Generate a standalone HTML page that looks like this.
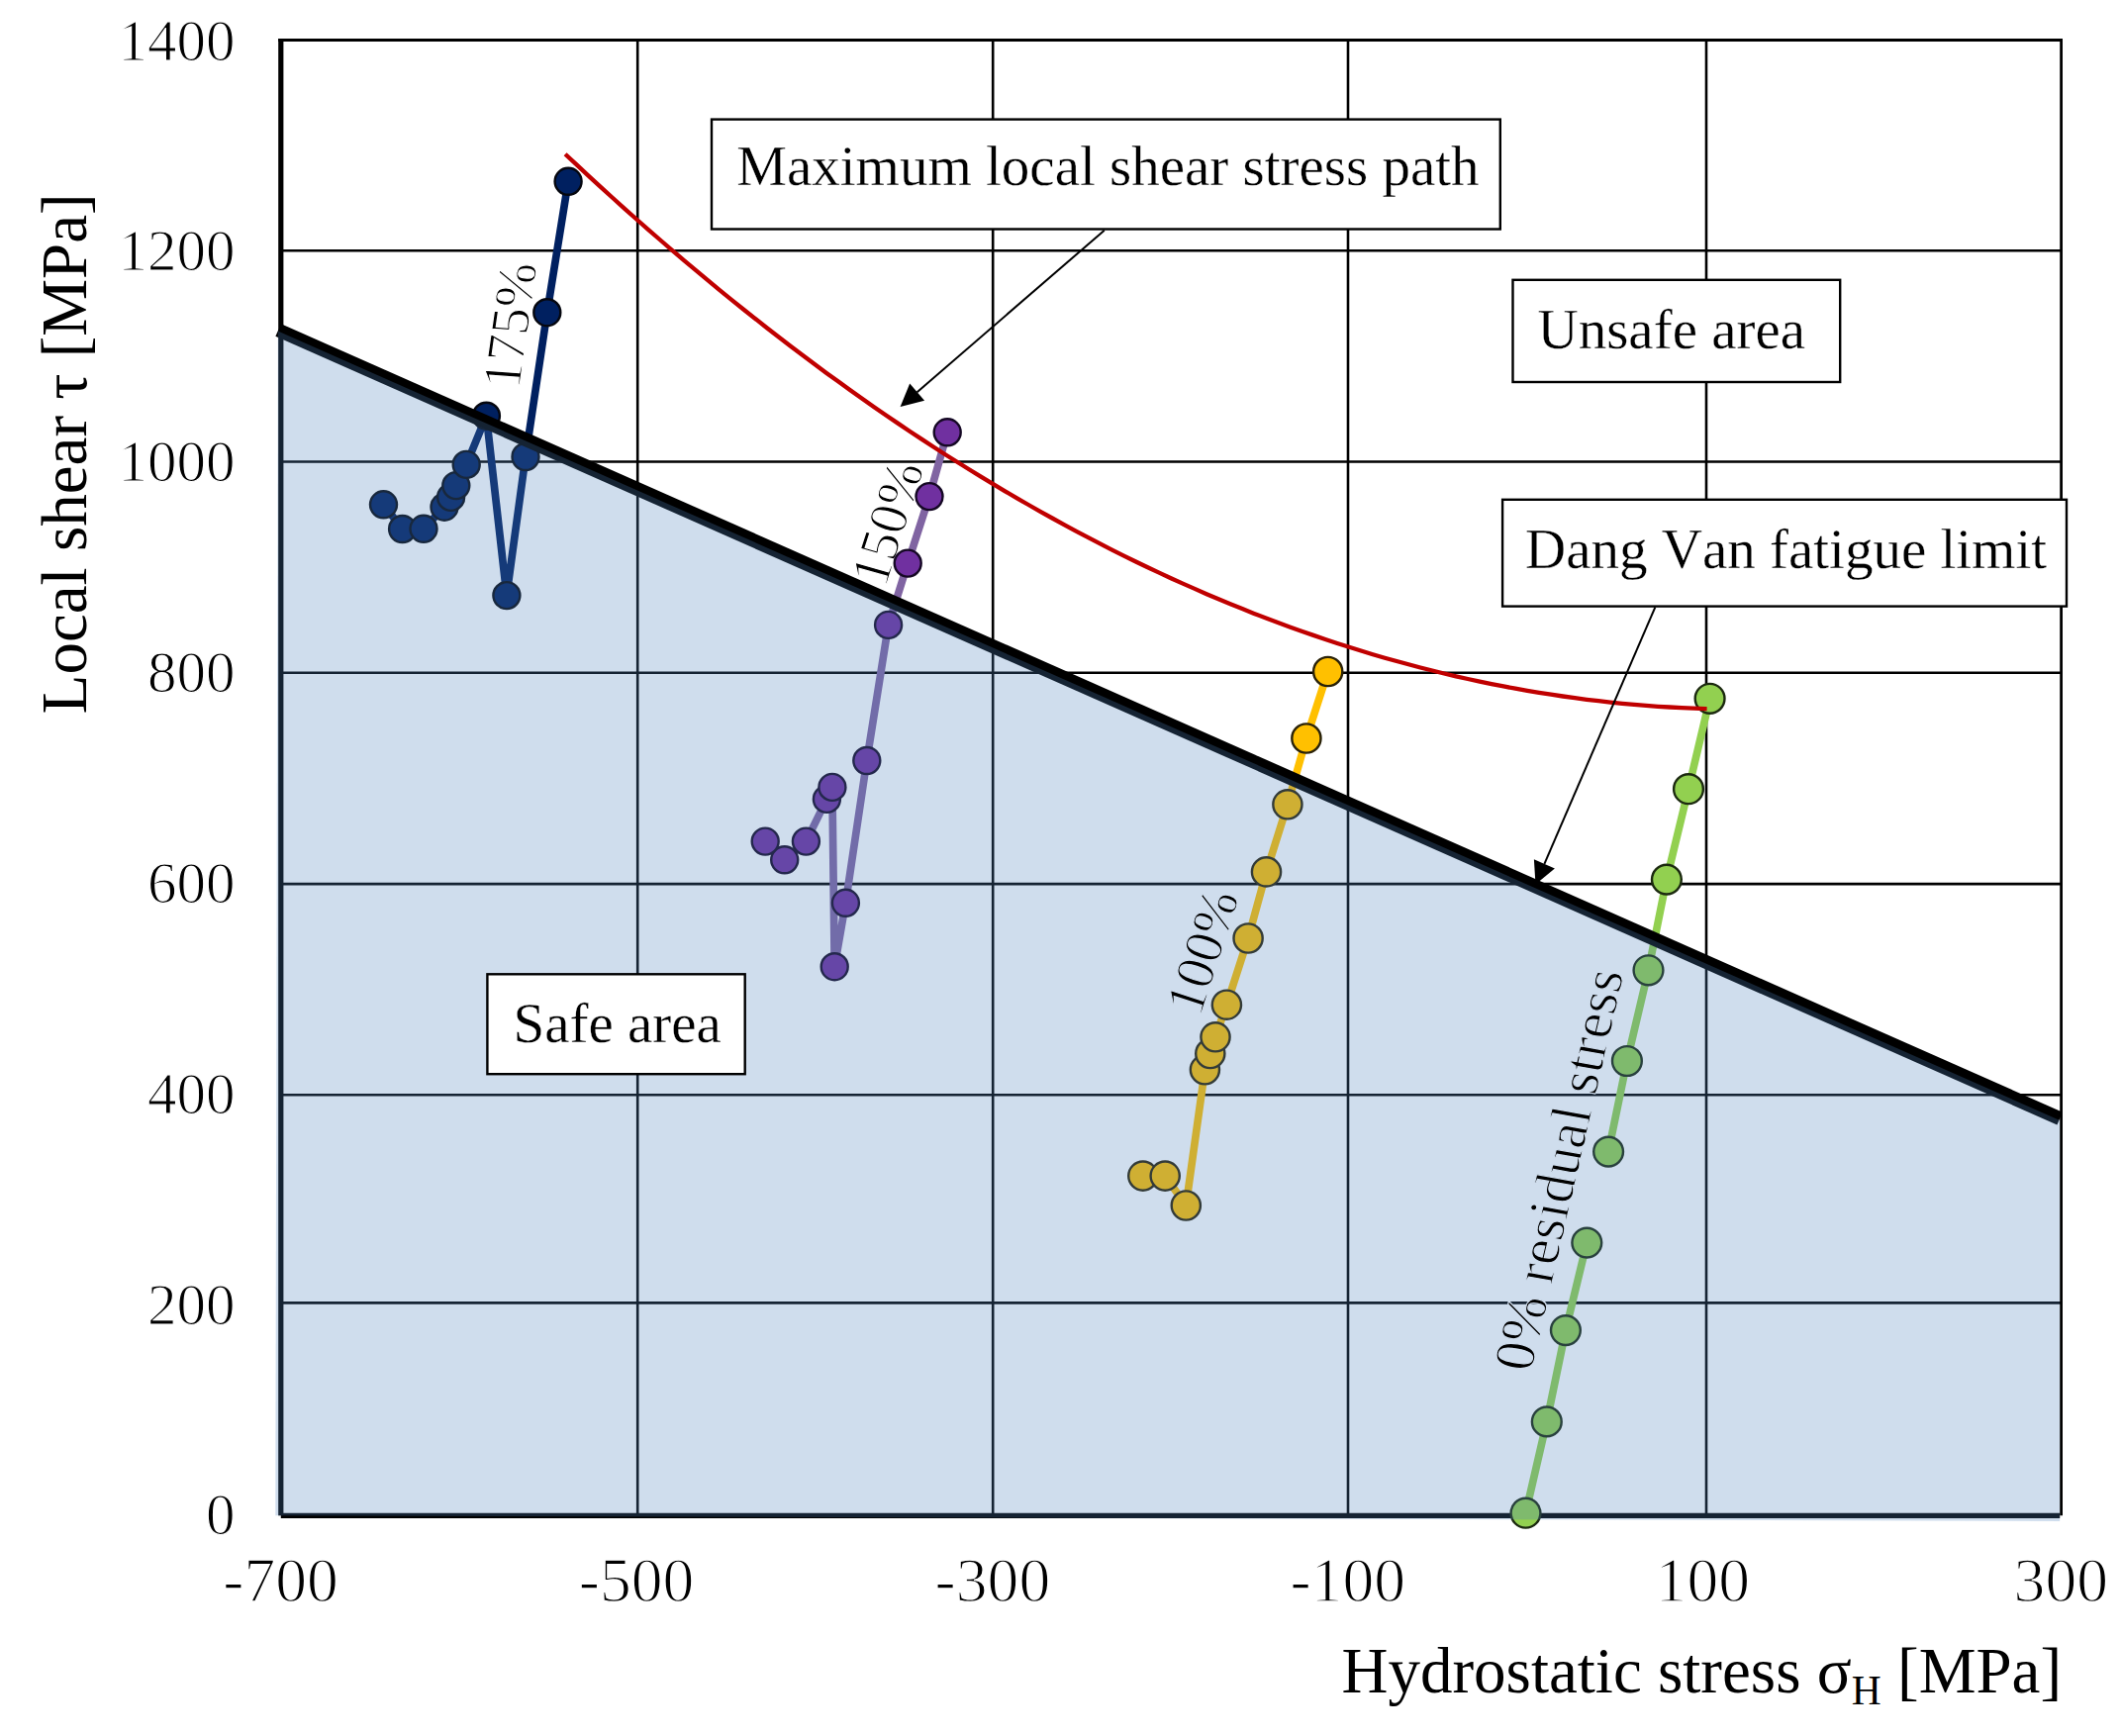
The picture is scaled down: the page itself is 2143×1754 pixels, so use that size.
<!DOCTYPE html>
<html><head><meta charset="utf-8"><title>Dang Van diagram</title>
<style>
html,body{margin:0;padding:0;background:#fff;}
svg{display:block;}
text{font-family:"Liberation Serif","Times New Roman",serif;fill:#000;font-kerning:none;}
.tk{font-size:59px;stroke:#fff;stroke-width:1.2px;}
.tx{font-size:60px;stroke:#fff;stroke-width:1.3px;}
.ax{font-size:65px;}
.bx{font-size:57px;stroke:#fff;stroke-width:0.3px;}
.it{font-size:55px;stroke:#fff;stroke-width:1.2px;}
.ib{stroke:#cfdded;}
</style></head><body>
<svg width="2143" height="1754" viewBox="0 0 2143 1754">
<rect x="0" y="0" width="2143" height="1754" fill="#fff"/>
<g stroke="#000" stroke-width="2.6" fill="none">
<line x1="644.2" y1="40.6" x2="644.2" y2="1531.3"/>
<line x1="1003.2" y1="40.6" x2="1003.2" y2="1531.3"/>
<line x1="1362.0" y1="40.6" x2="1362.0" y2="1531.3"/>
<line x1="1724.0" y1="40.6" x2="1724.0" y2="1531.3"/>
<line x1="283.8" y1="253.3" x2="2082.6" y2="253.3"/>
<line x1="283.8" y1="466.5" x2="2082.6" y2="466.5"/>
<line x1="283.8" y1="679.7" x2="2082.6" y2="679.7"/>
<line x1="283.8" y1="893.1" x2="2082.6" y2="893.1"/>
<line x1="283.8" y1="1106.3" x2="2082.6" y2="1106.3"/>
<line x1="283.8" y1="1316.4" x2="2082.6" y2="1316.4"/>
</g>
<line x1="281.2" y1="40.6" x2="2084.0" y2="40.6" stroke="#000" stroke-width="3"/>
<line x1="2082.6" y1="40.6" x2="2082.6" y2="1531.3" stroke="#000" stroke-width="2.8"/>
<line x1="283.8" y1="39.1" x2="283.8" y2="1531.3" stroke="#000" stroke-width="5.2"/>
<line x1="283.8" y1="1531.3" x2="2081.2" y2="1531.3" stroke="#000" stroke-width="5.3"/>
<text class="it" transform="translate(524.5,393.6) rotate(-81.9) skewX(4)">175%</text>
<text class="it" transform="translate(894.4,594.6) rotate(-72.1) skewX(2)">150%</text>
<polyline points="387.5,509.8 406.6,534.5 428.0,534.3 449.0,512.2 455.6,502.4 460.8,490.6 471.2,469.4 491.4,420.2 511.9,601.6 531.0,461.5 552.8,315.7 574.1,183.3" fill="none" stroke="#002060" stroke-width="7.7" stroke-linejoin="round" stroke-linecap="round"/>
<circle cx="406.6" cy="534.5" r="13.5" fill="#002060" stroke="#05070f" stroke-width="2.4"/>
<circle cx="387.5" cy="509.8" r="13.5" fill="#002060" stroke="#05070f" stroke-width="2.4"/>
<circle cx="428.0" cy="534.3" r="13.5" fill="#002060" stroke="#05070f" stroke-width="2.4"/>
<circle cx="449.0" cy="512.2" r="13.5" fill="#002060" stroke="#05070f" stroke-width="2.4"/>
<circle cx="455.6" cy="502.4" r="13.5" fill="#002060" stroke="#05070f" stroke-width="2.4"/>
<circle cx="460.8" cy="490.6" r="13.5" fill="#002060" stroke="#05070f" stroke-width="2.4"/>
<circle cx="471.2" cy="469.4" r="13.5" fill="#002060" stroke="#05070f" stroke-width="2.4"/>
<circle cx="491.4" cy="420.2" r="13.5" fill="#002060" stroke="#05070f" stroke-width="2.4"/>
<circle cx="511.9" cy="601.6" r="13.5" fill="#002060" stroke="#05070f" stroke-width="2.4"/>
<circle cx="531.0" cy="461.5" r="13.5" fill="#002060" stroke="#05070f" stroke-width="2.4"/>
<circle cx="552.8" cy="315.7" r="13.5" fill="#002060" stroke="#05070f" stroke-width="2.4"/>
<circle cx="574.1" cy="183.3" r="13.5" fill="#002060" stroke="#05070f" stroke-width="2.4"/>
<polyline points="773.2,850.1 792.7,868.8 814.4,850.1 835.4,807.4 840.9,795.4 843.2,976.7 854.4,912.3 875.8,768.5 897.6,631.4 917.2,569.1 939.0,501.6 957.2,436.8" fill="none" stroke="#8064a2" stroke-width="7.7" stroke-linejoin="round" stroke-linecap="round"/>
<circle cx="792.7" cy="868.8" r="13.5" fill="#7030a0" stroke="#150824" stroke-width="2.4"/>
<circle cx="773.2" cy="850.1" r="13.5" fill="#7030a0" stroke="#150824" stroke-width="2.4"/>
<circle cx="814.4" cy="850.1" r="13.5" fill="#7030a0" stroke="#150824" stroke-width="2.4"/>
<circle cx="835.4" cy="807.4" r="13.5" fill="#7030a0" stroke="#150824" stroke-width="2.4"/>
<circle cx="840.9" cy="795.4" r="13.5" fill="#7030a0" stroke="#150824" stroke-width="2.4"/>
<circle cx="843.2" cy="976.7" r="13.5" fill="#7030a0" stroke="#150824" stroke-width="2.4"/>
<circle cx="854.4" cy="912.3" r="13.5" fill="#7030a0" stroke="#150824" stroke-width="2.4"/>
<circle cx="875.8" cy="768.5" r="13.5" fill="#7030a0" stroke="#150824" stroke-width="2.4"/>
<circle cx="897.6" cy="631.4" r="13.5" fill="#7030a0" stroke="#150824" stroke-width="2.4"/>
<circle cx="917.2" cy="569.1" r="13.5" fill="#7030a0" stroke="#150824" stroke-width="2.4"/>
<circle cx="939.0" cy="501.6" r="13.5" fill="#7030a0" stroke="#150824" stroke-width="2.4"/>
<circle cx="957.2" cy="436.8" r="13.5" fill="#7030a0" stroke="#150824" stroke-width="2.4"/>
<polyline points="1154.8,1188.1 1177.2,1188.1 1198.3,1218.0 1217.4,1080.8 1222.8,1064.5 1228.0,1047.8 1239.4,1015.2 1261.1,948.0 1279.5,880.9 1300.9,812.8 1319.9,746.0 1341.7,678.5" fill="none" stroke="#ffc000" stroke-width="7.7" stroke-linejoin="round" stroke-linecap="round"/>
<circle cx="1154.8" cy="1188.1" r="14.6" fill="#ffc000" stroke="#2a2208" stroke-width="2.4"/>
<circle cx="1177.2" cy="1188.1" r="14.6" fill="#ffc000" stroke="#2a2208" stroke-width="2.4"/>
<circle cx="1198.3" cy="1218.0" r="14.6" fill="#ffc000" stroke="#2a2208" stroke-width="2.4"/>
<circle cx="1217.4" cy="1080.8" r="14.6" fill="#ffc000" stroke="#2a2208" stroke-width="2.4"/>
<circle cx="1222.8" cy="1064.5" r="14.6" fill="#ffc000" stroke="#2a2208" stroke-width="2.4"/>
<circle cx="1228.0" cy="1047.8" r="14.6" fill="#ffc000" stroke="#2a2208" stroke-width="2.4"/>
<circle cx="1239.4" cy="1015.2" r="14.6" fill="#ffc000" stroke="#2a2208" stroke-width="2.4"/>
<circle cx="1261.1" cy="948.0" r="14.6" fill="#ffc000" stroke="#2a2208" stroke-width="2.4"/>
<circle cx="1279.5" cy="880.9" r="14.6" fill="#ffc000" stroke="#2a2208" stroke-width="2.4"/>
<circle cx="1300.9" cy="812.8" r="14.6" fill="#ffc000" stroke="#2a2208" stroke-width="2.4"/>
<circle cx="1319.9" cy="746.0" r="14.6" fill="#ffc000" stroke="#2a2208" stroke-width="2.4"/>
<circle cx="1341.7" cy="678.5" r="14.6" fill="#ffc000" stroke="#2a2208" stroke-width="2.4"/>
<polyline points="1541.5,1528.7 1562.8,1436.4 1581.9,1344.1 1603.3,1255.6" fill="none" stroke="#92d050" stroke-width="7.7" stroke-linejoin="round" stroke-linecap="round"/>
<polyline points="1625.1,1163.6 1643.9,1072.0 1665.5,980.3 1683.9,888.6 1706.0,797.2 1727.6,705.8" fill="none" stroke="#92d050" stroke-width="7.7" stroke-linejoin="round" stroke-linecap="round"/>
<circle cx="1541.5" cy="1528.7" r="14.9" fill="#92d050" stroke="#1c2a10" stroke-width="2.4"/>
<circle cx="1562.8" cy="1436.4" r="14.9" fill="#92d050" stroke="#1c2a10" stroke-width="2.4"/>
<circle cx="1581.9" cy="1344.1" r="14.9" fill="#92d050" stroke="#1c2a10" stroke-width="2.4"/>
<circle cx="1603.3" cy="1255.6" r="14.9" fill="#92d050" stroke="#1c2a10" stroke-width="2.4"/>
<circle cx="1625.1" cy="1163.6" r="14.9" fill="#92d050" stroke="#1c2a10" stroke-width="2.4"/>
<circle cx="1643.9" cy="1072.0" r="14.9" fill="#92d050" stroke="#1c2a10" stroke-width="2.4"/>
<circle cx="1665.5" cy="980.3" r="14.9" fill="#92d050" stroke="#1c2a10" stroke-width="2.4"/>
<circle cx="1683.9" cy="888.6" r="14.9" fill="#92d050" stroke="#1c2a10" stroke-width="2.4"/>
<circle cx="1706.0" cy="797.2" r="14.9" fill="#92d050" stroke="#1c2a10" stroke-width="2.4"/>
<circle cx="1727.6" cy="705.8" r="14.9" fill="#92d050" stroke="#1c2a10" stroke-width="2.4"/>
<polyline points="571.1,155.7 583.1,166.9 595.1,178.1 607.1,189.1 619.1,200.0 631.1,210.8 643.1,221.5 655.1,232.1 667.1,242.5 679.1,252.8 691.1,263.1 703.1,273.2 715.1,283.2 727.1,293.1 739.1,302.8 751.1,312.5 763.1,322.0 775.1,331.5 787.1,340.8 799.1,350.0 811.1,359.0 823.1,368.0 835.1,376.9 847.1,385.6 859.1,394.3 871.1,402.8 883.1,411.2 895.1,419.5 907.1,427.6 919.1,435.7 931.1,443.6 943.1,451.5 955.1,459.2 967.1,466.8 979.1,474.3 991.1,481.7 1003.1,488.9 1015.1,496.1 1027.1,503.1 1039.1,510.0 1051.1,516.8 1063.1,523.5 1075.1,530.1 1087.1,536.6 1099.1,542.9 1111.1,549.2 1123.1,555.3 1135.1,561.3 1147.1,567.2 1159.1,573.0 1171.1,578.6 1183.1,584.2 1195.1,589.6 1207.1,594.9 1219.1,600.2 1231.1,605.3 1243.1,610.2 1255.1,615.1 1267.1,619.9 1279.1,624.5 1291.1,629.0 1303.1,633.4 1315.1,637.7 1327.1,641.9 1339.1,646.0 1351.1,650.0 1363.1,653.8 1375.1,657.5 1387.1,661.2 1399.1,664.7 1411.1,668.0 1423.1,671.3 1435.1,674.5 1447.1,677.5 1459.1,680.5 1471.1,683.3 1483.1,686.0 1495.1,688.6 1507.1,691.1 1519.1,693.4 1531.1,695.7 1543.1,697.8 1555.1,699.8 1567.1,701.7 1579.1,703.5 1591.1,705.2 1603.1,706.8 1615.1,708.2 1627.1,709.6 1639.1,710.8 1651.1,711.9 1663.1,712.9 1675.1,713.8 1687.1,714.5 1699.1,715.2 1711.1,715.7 1723.1,716.2 1724.6,716.2" fill="none" stroke="#c00000" stroke-width="4.3" stroke-linejoin="round"/>
<line x1="281.2" y1="333.5" x2="2081.2" y2="1130.1" stroke="#000" stroke-width="13.9"/>
<polygon points="280.8,334.6 2081.2,1132.0 2081.2,1537 278.3,1531.2" fill="rgb(79,129,189)" fill-opacity="0.27"/>
<text class="it ib" transform="translate(1212.4,1027.9) rotate(-72)">100%</text>
<text class="it ib" style="font-size:57.5px" transform="translate(1546.8,1387.3) rotate(-76.9) skewX(3)">0% residual stress</text>
<rect x="719" y="120.6" width="796.8" height="110.9" fill="#fff" stroke="#000" stroke-width="2.4"/>
<text class="bx" x="744.3" y="186.5">Maximum local shear stress path</text>
<rect x="1528.5" y="282.8" width="330.7" height="103.2" fill="#fff" stroke="#000" stroke-width="2.4"/>
<text class="bx" x="1553.5" y="351.8">Unsafe area</text>
<rect x="1518.1" y="504.8" width="569.9" height="107.8" fill="#fff" stroke="#000" stroke-width="2.4"/>
<text class="bx" x="1541" y="573.7">Dang Van fatigue limit</text>
<rect x="492.4" y="984.3" width="260.3" height="100.9" fill="#fff" stroke="#000" stroke-width="2.4"/>
<text class="bx" x="518.5" y="1053.4">Safe area</text>
<line x1="1115.8" y1="232.7" x2="926.6" y2="396.2" stroke="#000" stroke-width="2"/>
<polygon points="909.6,410.9 919.2,387.6 934.1,404.8" fill="#000"/>
<line x1="1672.4" y1="613.4" x2="1560.4" y2="872.8" stroke="#000" stroke-width="2"/>
<polygon points="1551.5,893.5 1549.9,868.3 1570.9,877.4" fill="#000"/>
<text class="tk" x="237.6" y="60.6" text-anchor="end">1400</text>
<text class="tk" x="237.6" y="273.4" text-anchor="end">1200</text>
<text class="tk" x="237.6" y="486.3" text-anchor="end">1000</text>
<text class="tk" x="237.6" y="699.1" text-anchor="end">800</text>
<text class="tk" x="237.6" y="911.9" text-anchor="end">600</text>
<text class="tk" x="237.6" y="1124.8" text-anchor="end">400</text>
<text class="tk" x="237.6" y="1337.6" text-anchor="end">200</text>
<text class="tk" x="237.6" y="1550.4" text-anchor="end">0</text>
<text class="tx" transform="translate(283.5,1617.6) scale(1.06,1.06)" text-anchor="middle">-700</text>
<text class="tx" transform="translate(643.0,1617.6) scale(1.06,1.06)" text-anchor="middle">-500</text>
<text class="tx" transform="translate(1002.9,1617.6) scale(1.06,1.06)" text-anchor="middle">-300</text>
<text class="tx" transform="translate(1361.7,1617.6) scale(1.06,1.06)" text-anchor="middle">-100</text>
<text class="tx" transform="translate(1720.3,1617.6) scale(1.06,1.06)" text-anchor="middle">100</text>
<text class="tx" transform="translate(2082.3,1617.6) scale(1.06,1.06)" text-anchor="middle">300</text>
<text class="ax" transform="translate(86.8,721.3) rotate(-90)">Local shear τ [MPa]</text>
<text class="ax" x="1355.5" y="1709.7">Hydrostatic stress σ<tspan font-size="41.5" dy="12.5">H</tspan><tspan dy="-12.5"> [MPa]</tspan></text>
</svg></body></html>
